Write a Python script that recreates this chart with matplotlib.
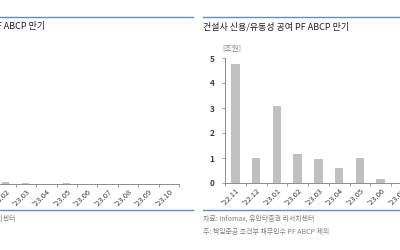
import matplotlib
matplotlib.use("Agg")
import matplotlib.pyplot as plt

plt.rcParams['font.family'] = ['Noto Sans CJK KR', 'DejaVu Sans']

# 오른쪽 차트 데이터 (건설사 신용/유동성 공여 PF ABCP 만기, 조원)
right_labels = ["'22.11", "'22.12", "'23.01", "'23.02", "'23.03", "'23.04",
                "'23.05", "'23.06", "'23.07"]
right_values = [4.75, 1.0, 3.1, 1.17, 0.95, 0.61, 1.0, 0.15, 0.02]

# 왼쪽 차트 (잘린 부분) 데이터
left_labels = ["'23.02", "'23.03", "'23.04", "'23.05", "'23.06", "'23.07",
               "'23.08", "'23.09", "'23.10"]
left_values = [0.08, 0.03, 0.0, 0.06, 0.0, 0.0, 0.0, 0.0, 0.0]

W, H = 400, 250
fig = plt.figure(figsize=(4, 2.5), dpi=100)

bar_col = "#c0c0c0"
axis_col = "#8c8c8c"
text_col = "#404040"
note_col = "#808080"
blue = "#5b8fc7"


def px(x, y):
    return x / W, 1 - y / H


def style_axes(ax, labels):
    n = len(labels)
    ax.set_xlim(-0.5, n - 0.5)
    ax.set_ylim(0, 5)
    ax.spines['top'].set_visible(False)
    ax.spines['right'].set_visible(False)
    ax.spines['left'].set_color(axis_col)
    ax.spines['bottom'].set_color(axis_col)
    ax.spines['left'].set_linewidth(0.7)
    ax.spines['bottom'].set_linewidth(0.7)
    ax.set_xticks(range(n))
    ax.set_xticklabels(labels, rotation=45, ha='right', rotation_mode='anchor',
                       fontsize=5.5, color=text_col)
    ax.tick_params(axis='x', length=0, pad=3)
    ax.set_xticks([i + 0.5 for i in range(-1, n)], minor=True)
    ax.tick_params(axis='x', which='minor', length=2.5, color=axis_col, width=0.6)
    ax.set_yticks(range(6))
    ax.tick_params(axis='y', length=2.5, color=axis_col, width=0.6, labelsize=6,
                   labelcolor=text_col, pad=5)


# 오른쪽 차트
axr = fig.add_axes([225 / W, (250 - 183) / H, 9 * 20.75 / W, 125 / H])
axr.bar(range(len(right_values)), right_values, width=0.42, color=bar_col)
style_axes(axr, right_labels)
for t in axr.get_yticklabels():
    t.set_fontweight('bold')

# 왼쪽 차트 (일부만 보임)
axl = fig.add_axes([-4.7 / W, (250 - 184) / H, 9 * 20.4 / W, 125 / H])
axl.bar(range(len(left_values)), left_values, width=0.35, color=bar_col)
style_axes(axl, left_labels)
axl.set_yticks([])
axl.spines['left'].set_visible(False)

# 제목, 단위, 출처
fig.text(*px(203, 27), "건설사 신용/유동성 공여 PF ABCP 만기", fontsize=6.5,
         color="#222222", va='center', ha='left')
fig.text(*px(45, 27), "PF ABCP 만기", fontsize=6.5, color="#222222",
         va='center', ha='right')
fig.text(*px(222, 49), "[조원]", fontsize=5.5, color=note_col, va='center', ha='left')
fig.text(*px(203, 219), "자료: Infomax, 유안타증권 리서치센터", fontsize=5,
         color=note_col, va='center', ha='left')
fig.text(*px(203, 232), "주: 책임준공 조건부 채무인수 PF ABCP 제외", fontsize=5,
         color=note_col, va='center', ha='left')
fig.text(*px(15, 219), "자료: Infomax, 유안타증권 리서치센터", fontsize=5,
         color=note_col, va='center', ha='right')

# 파란 구분선
for y in (17, 210):
    fig.add_artist(plt.Line2D([0, 193 / W], [1 - y / H] * 2, color=blue, lw=1))
    fig.add_artist(plt.Line2D([203 / W, 1], [1 - y / H] * 2, color=blue, lw=1))

fig.savefig("out.png", dpi=100)
